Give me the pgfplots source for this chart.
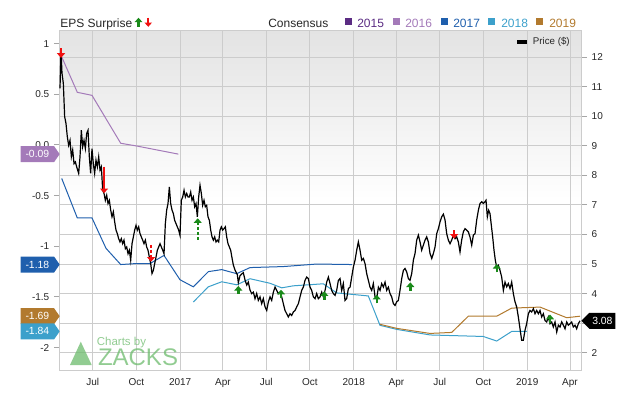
\documentclass[border=0pt]{standalone}
\usepackage{fontspec}
\setmainfont{Liberation Sans}
\usepackage{pgfplots}
\pgfplotsset{compat=1.18}
\usetikzlibrary{arrows.meta,shapes.symbols}
\definecolor{cA}{HTML}{5B2C83}
\definecolor{cB}{HTML}{A47AB9}
\definecolor{cC}{HTML}{1F5FAD}
\definecolor{cD}{HTML}{3CA0CB}
\definecolor{cE}{HTML}{B27A2E}
\definecolor{gridc}{HTML}{CCCCCC}
\definecolor{upg}{HTML}{1A8A1A}
\definecolor{dnr}{HTML}{F01010}
\definecolor{zg}{HTML}{6DBB6D}
\pgfplotsset{base/.style={at={(0pt,0pt)}, anchor=south west, scale only axis,
  width=390.75pt, height=255pt, xmin=113.2, xmax=1209.1},
  tfont/.style={font=\fontsize{7.5}{9}\selectfont}}
\begin{document}
\begin{tikzpicture}
\useasboundingbox (-45pt,-26.25pt) rectangle (435pt,277.5pt);
% axis 1: frame, background, grid, x labels, right ticks
\begin{axis}[base, ymin=1.414, ymax=12.924,
  axis background/.style={top color=black!11, bottom color=white, middle color=white},
  axis line style={draw=gridc, line width=0.75pt},
  grid=major, grid style={draw=gridc, line width=0.75pt},
  xtick={182,274,366,456,547,639,731,821,912,1004,1096,1186},
  xticklabels={Jul,Oct,2017,Apr,Jul,Oct,2018,Apr,Jul,Oct,2019,Apr},
  x tick style={draw=none},
  xticklabel style={yshift=1.5pt},
  ytick={2,3,4,5,6,7,8,9,10,11,12},
  yticklabels={2,{},4,5,6,7,8,9,10,11,12},
  ytick pos=right, tick align=outside, major tick length=4.5pt,
  y tick style={draw=gray!70, line width=0.75pt},
  tick label style={tfont, text=black!85},
]
\end{axis}
% watermark
\begin{scope}[opacity=0.75]
\fill[zg] (7.5pt,3.75pt) -- (23.8pt,3.75pt) -- (15.6pt,21.2pt) -- cycle;
\node[anchor=base west, inner sep=0pt, text=zg, font=\fontsize{8.6}{10}\selectfont] at (27.5pt,18.75pt) {Charts by};
\node[anchor=base west, inner sep=0pt, text=zg, font=\fontsize{18}{20}\selectfont] at (28.3pt,3.75pt) {ZACKS};
\end{scope}
% axis 2: EPS consensus
\begin{axis}[base, ymin=-2.221, ymax=1.135, hide x axis, axis y line*=left,
  y axis line style={draw=gridc, line width=0.75pt},
  ytick={-2,-1.5,-1,-0.5,0,0.5,1}, yticklabels={-2,-1.5,-1,-0.5,0.0,0.5,1},
  tick align=outside, major tick length=4.5pt,
  y tick style={draw=gray!70, line width=0.75pt},
  tick label style={tfont, text=black!85}, clip=false]
\addplot[cB, line width=0.75pt] coordinates {(116.8,0.87) (149.6,0.52) (180.5,0.49) (240.9,0.017) (274.6,-0.01) (362.1,-0.09)};
\addplot[cC, line width=0.75pt] coordinates {(116.8,-0.33) (149.6,-0.72) (180.5,-0.72) (210.0,-1.02) (240.9,-1.18) (274.6,-1.17) (302.5,-1.17) (332.0,-1.09) (365.6,-1.33) (393.6,-1.40) (425.2,-1.25) (453.4,-1.23) (484.9,-1.27) (512.9,-1.21) (583,-1.20) (653.2,-1.175) (727.4,-1.18)};
\addplot[cD, line width=0.75pt] coordinates {(393.6,-1.55) (425.2,-1.40) (453.4,-1.35) (484.9,-1.38) (512.9,-1.32) (555.0,-1.365) (579.6,-1.41) (604.0,-1.39) (667.1,-1.37) (695.3,-1.46) (761.7,-1.49) (786.3,-1.78) (821.5,-1.82) (891.5,-1.875) (1003.6,-1.89) (1031.8,-1.935) (1063.4,-1.84) (1095.0,-1.84)};
\addplot[cE, line width=0.75pt] coordinates {(786.3,-1.77) (821.5,-1.81) (891.5,-1.86) (937.2,-1.85) (972.1,-1.69) (1031.8,-1.69) (1063.4,-1.61) (1122.9,-1.60) (1179.0,-1.705) (1207.0,-1.69)};
\tikzset{tag/.style={signal, signal to=east, signal pointer angle=110, fill=#1, text=white,
  font=\fontsize{7.8}{9}\selectfont, minimum width=29.25pt, minimum height=12pt, inner sep=1pt, anchor=east}}
\node[tag=cB] at (axis cs:113.2,-0.09) {-0.09};
\node[tag=cC] at (axis cs:113.2,-1.18) {-1.18};
\node[tag=cE] at (axis cs:113.2,-1.69) {-1.69};
\node[tag=cD] at (axis cs:113.2,-1.84) {-1.84};
\end{axis}
% axis 3: price and surprise arrows
\begin{axis}[base, ymin=1.414, ymax=12.924, hide axis, clip=false]
\addplot[black, line width=0.9pt] table {
113.2 10.95
115.3 12.22
117.4 11.46
120.2 11.12
123.0 9.99
125.8 9.76
128.6 9.31
131.4 9.02
134.3 9.19
137.1 8.63
139.9 8.86
142.7 8.40
145.5 8.46
148.3 8.29
152.5 8.07
155.3 8.63
158.1 9.53
160.9 8.97
163.7 9.19
166.5 8.91
169.3 9.42
172.1 9.53
174.9 8.63
177.7 8.07
180.5 8.91
183.3 8.40
186.1 8.07
188.9 8.52
191.8 8.29
194.6 8.63
197.4 8.18
200.2 8.29
203.0 7.50
205.8 7.39
208.6 7.16
211.4 7.33
214.2 7.05
217.0 7.16
219.8 6.83
222.6 6.60
225.4 6.77
228.2 6.43
231.0 6.15
233.8 6.03
236.6 5.86
239.4 5.75
242.2 5.86
245.0 5.69
247.8 5.81
250.7 5.52
253.5 5.58
256.3 5.35
259.1 5.47
261.9 5.13
264.7 5.69
267.5 5.92
270.3 6.15
273.1 6.31
275.9 6.15
278.7 6.26
281.5 6.03
284.3 5.92
287.1 5.81
289.9 5.69
292.7 5.81
295.5 5.58
298.3 5.47
301.1 5.24
303.9 5.02
306.7 4.68
309.6 4.79
312.4 5.02
315.2 5.24
318.0 5.47
320.8 5.58
323.6 5.69
326.4 5.58
329.2 5.47
332.0 5.35
334.8 6.37
337.6 6.83
340.4 7.05
343.2 7.61
346.0 7.05
348.8 6.83
351.6 6.71
354.4 6.48
357.2 6.37
360.0 6.26
362.8 6.15
365.6 5.97
368.4 7.16
371.3 7.27
374.1 7.50
376.9 7.27
379.7 7.39
382.5 7.27
385.3 7.27
388.1 7.44
390.9 7.16
393.7 7.27
396.5 6.94
399.3 7.05
402.1 6.60
404.9 7.27
407.7 7.67
410.5 7.39
413.3 6.99
416.1 7.16
418.9 6.94
421.7 6.99
424.5 6.60
427.4 6.48
430.2 6.15
433.0 5.92
435.8 5.81
438.6 5.92
441.4 5.75
444.2 5.81
447.0 5.75
449.8 6.15
452.6 6.26
455.4 6.15
458.2 6.20
461.0 6.26
463.8 5.92
466.6 5.69
469.4 5.58
472.2 5.47
475.0 5.21
477.8 4.97
481.3 4.80
486.2 4.64
488.3 4.37
491.9 4.61
498.8 4.71
502.4 4.46
506.0 4.29
509.3 4.39
512.9 4.12
516.4 4.00
519.9 4.05
523.4 3.83
526.9 4.00
530.4 3.77
533.9 3.89
537.4 3.66
540.9 3.83
544.5 3.55
548.0 3.43
551.5 3.72
555.0 3.89
558.5 3.77
562.0 4.05
565.5 4.22
569.0 4.11
572.5 4.00
576.0 4.05
579.5 3.89
583.0 3.66
586.5 3.43
590.0 3.32
593.5 3.21
597.0 3.32
600.6 3.26
604.1 3.38
607.6 3.43
611.1 3.55
614.6 3.66
618.1 3.89
621.6 4.11
625.1 4.22
628.6 4.45
632.1 4.56
635.6 4.51
639.1 4.22
642.6 4.11
646.1 3.89
649.6 3.83
653.1 4.00
656.6 3.83
660.2 3.89
663.7 4.05
667.2 3.89
670.7 4.11
674.2 4.39
677.7 4.56
681.2 4.34
684.7 4.11
688.2 4.00
691.7 3.94
695.2 4.11
698.7 4.45
702.2 4.51
705.7 4.11
709.2 4.34
712.7 3.77
716.2 3.83
719.8 4.17
723.3 4.22
726.8 4.56
730.3 4.90
733.8 5.13
737.3 5.47
740.8 5.75
744.3 5.47
747.8 5.13
751.3 5.19
754.8 5.02
758.3 4.68
761.8 4.45
765.3 4.22
768.8 4.11
772.3 4.34
775.9 3.89
779.4 3.83
782.9 4.22
786.4 4.11
789.9 4.34
793.4 4.22
796.9 4.39
800.4 4.11
803.9 4.22
807.4 4.00
810.9 3.89
814.4 3.66
817.9 3.60
821.4 3.72
824.9 3.77
828.4 4.11
832.0 4.51
835.5 4.79
839.0 4.85
842.5 4.73
846.0 4.51
849.5 4.45
853.0 4.68
856.5 5.13
860.0 5.36
863.5 5.81
867.0 5.98
870.5 5.75
874.0 5.47
877.5 5.64
881.0 5.81
884.5 5.92
888.0 5.75
891.5 5.36
895.1 5.19
898.6 5.36
902.1 5.58
905.6 6.03
909.1 6.20
912.6 6.43
916.1 6.60
919.6 6.69
923.1 6.49
926.6 6.03
930.1 5.81
933.6 5.69
937.1 5.81
940.6 5.98
944.1 5.86
947.6 5.92
951.1 5.75
954.6 5.41
958.1 5.81
961.6 6.09
965.1 6.20
968.6 6.15
972.1 6.09
975.6 5.92
979.2 5.64
982.7 5.98
986.2 6.03
989.7 6.49
993.2 6.82
996.7 7.05
1000.2 7.11
1003.7 7.05
1007.2 7.11
1009.3 7.16
1012.1 6.60
1014.9 6.82
1017.7 6.71
1020.5 6.31
1023.3 5.92
1026.1 5.47
1028.9 5.13
1031.7 4.90
1035.2 4.96
1038.7 4.79
1042.3 4.56
1045.8 4.11
1049.3 4.39
1052.8 4.23
1056.3 4.34
1059.8 4.17
1063.3 4.39
1066.8 4.00
1070.3 3.72
1073.8 3.55
1077.3 3.21
1080.8 2.81
1084.3 2.42
1087.8 2.42
1091.3 2.76
1094.8 2.98
1098.4 3.32
1101.9 3.43
1105.4 3.38
1108.9 3.49
1112.4 3.32
1115.9 3.43
1119.4 3.32
1122.9 3.43
1126.4 3.21
1129.9 3.32
1133.4 3.09
1136.9 3.04
1140.4 3.21
1143.9 2.98
1147.4 3.04
1150.9 2.87
1154.5 3.04
1158.0 2.70
1161.5 2.93
1165.0 2.87
1168.5 3.04
1172.0 2.93
1175.5 2.81
1179.0 3.04
1182.5 2.93
1186.0 2.98
1189.5 3.04
1193.0 2.87
1196.5 2.93
1200.0 2.81
1203.5 2.98
1207.0 3.08
};
% small up arrows (positive surprise)
\addplot[upg, line width=1.8pt, -{Triangle[width=6pt,length=3.5pt]}, quiver={u=0, v=\thisrow{v}}] table {
x y v
488.3 3.99 0.27
578.1 3.84 0.29
669.2 3.79 0.29
779.4 3.67 0.29
850.1 4.10 0.28
1031.8 4.72 0.28
1143.9 3.00 0.29
};
% dashed up arrow
\addplot[upg, line width=1.8pt, dash pattern=on 2.2pt off 1.6pt, -{Triangle[width=6pt,length=3.5pt]}, quiver={u=0, v=\thisrow{v}}] table {
x y v
402.9 5.82 0.73
};
% down arrows (negative surprise)
\addplot[dnr, line width=1.8pt, -{Triangle[width=6pt,length=3.5pt]}, quiver={u=0, v=\thisrow{v}}] table {
x y v
115.4 12.31 -0.33
205.9 8.30 -0.90
942.3 6.15 -0.29
};
\addplot[dnr, line width=1.8pt, dash pattern=on 2.2pt off 1.6pt, -{Triangle[width=6pt,length=3.5pt]}, quiver={u=0, v=\thisrow{v}}] table {
x y v
304.8 5.65 -0.57
};
\node[signal, signal to=west, signal pointer angle=90, fill=black, text=white,
  font=\fontsize{7.8}{9}\selectfont, minimum width=25.5pt, minimum height=12pt, inner sep=1pt, anchor=west]
  at (axis cs:1209.1,3.08) {3.08};
\end{axis}
% price legend
\fill[black] (342.75pt,244.6pt) rectangle (350.25pt,247.6pt);
\node[anchor=west, inner sep=0pt, font=\fontsize{7.3}{9}\selectfont, text=black!85] at (354.5pt,246.1pt) {Price (\$)};
% top legend
\node[anchor=base west, inner sep=0pt, font=\fontsize{9}{11}\selectfont, text=black!85] at (0pt,257.25pt) {EPS Surprise};
\draw[upg, line width=1.8pt, -{Triangle[width=5.5pt,length=3.2pt]}] (58.9pt,257.4pt) -- (58.9pt,264.2pt);
\draw[dnr, line width=1.8pt, -{Triangle[width=5.5pt,length=3.2pt]}] (66.2pt,264.2pt) -- (66.2pt,257.4pt);
\node[anchor=base west, inner sep=0pt, font=\fontsize{9}{11}\selectfont, text=black!85] at (156pt,257.25pt) {Consensus};
\fill[cA] (213.6pt,258.8pt) rectangle (218.85pt,264.05pt);
\node[anchor=base west, inner sep=0pt, font=\fontsize{9}{11}\selectfont, text=cA] at (222.75pt,257.25pt) {2015};
\fill[cB] (249.4pt,258.8pt) rectangle (254.65pt,264.05pt);
\node[anchor=base west, inner sep=0pt, font=\fontsize{9}{11}\selectfont, text=cB] at (258.75pt,257.25pt) {2016};
\fill[cC] (285.4pt,258.8pt) rectangle (290.65pt,264.05pt);
\node[anchor=base west, inner sep=0pt, font=\fontsize{9}{11}\selectfont, text=cC] at (294.75pt,257.25pt) {2017};
\fill[cD] (321.2pt,258.8pt) rectangle (326.45pt,264.05pt);
\node[anchor=base west, inner sep=0pt, font=\fontsize{9}{11}\selectfont, text=cD] at (330.75pt,257.25pt) {2018};
\fill[cE] (356.9pt,258.8pt) rectangle (362.15pt,264.05pt);
\node[anchor=base west, inner sep=0pt, font=\fontsize{9}{11}\selectfont, text=cE] at (366.75pt,257.25pt) {2019};
\end{tikzpicture}
\end{document}
